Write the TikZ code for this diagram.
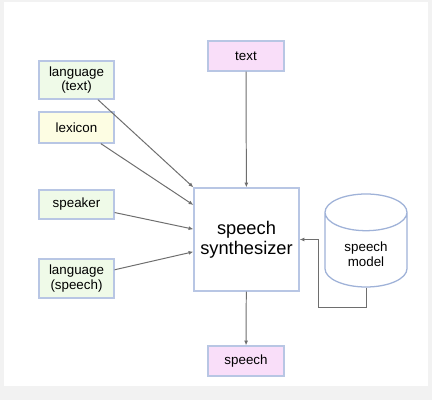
\documentclass[tikz,border=0pt]{standalone}
\usepackage{fontspec}
\setmainfont{Liberation Sans}
\usetikzlibrary{arrows.meta, shapes.geometric}
\definecolor{pagegray}{HTML}{F2F2F2}
\definecolor{iofill}{HTML}{F9DEF9}
\definecolor{langfill}{HTML}{EFFAE8}
\definecolor{lexfill}{HTML}{FDFDE3}
\definecolor{boxborder}{HTML}{B8C6E4}
\definecolor{drumborder}{HTML}{9FB2D8}
\definecolor{darkline}{HTML}{6E6E6E}
\tikzset{
  card/.style={
    rectangle,
    align=center,
    draw=boxborder,
    line width=0.9pt,
    inner sep=1pt,
    minimum width=1.875cm,
    font=\fontsize{9.5}{10.5}\selectfont
  },
  iobox/.style={card, fill=iofill, minimum width=1.9cm, minimum height=0.75cm},
  langbox/.style={card, fill=langfill},
  lexbox/.style={card, fill=lexfill},
  synthbox/.style={card, fill=white, minimum width=2.625cm, minimum height=2.575cm, font=\fontsize{13}{14.5}\selectfont},
  drum/.style={cylinder, shape border rotate=90, aspect=0.7, draw=drumborder, line width=0.9pt,
    fill=white, align=center, minimum width=2.05cm, minimum height=2.325cm, anchor=shape center,
    font=\fontsize{9.5}{10.5}\selectfont},
  flow/.style={-{Latex[length=1.2mm, width=1mm]}, line width=0.7pt, draw=darkline}
}

\begin{document}
\begin{tikzpicture}

% Page and frame.
\fill[pagegray] (0,0) rectangle (10.8,10);
\fill[white] (0.1,0.35) rectangle (10.7,9.95);
\useasboundingbox (0,0) rectangle (10.8,10);

% Inputs.
\node[iobox] (text) at (6.15,8.6) {text};
\node[langbox, minimum height=0.95cm] (langtext) at (1.9125,8.0) {language\\(text)};
\node[lexbox, minimum height=0.775cm] (lexicon) at (1.9125,6.8125) {lexicon};
\node[langbox, minimum height=0.725cm] (speaker) at (1.9125,4.8875) {speaker};
\node[langbox, minimum height=0.975cm] (langspeech) at (1.9125,3.0375) {language\\(speech)};

% Synthesizer and model.
\node[synthbox] (synth) at (6.1625,4.0125) {speech\\synthesizer};
\node[drum] (model) at (9.15,3.9875) {speech\\model};

% Output.
\node[iobox] (speech) at (6.15,0.975) {speech};

% Connectors.
\draw[flow] (langtext) -- (synth.north west);
\draw[flow] (lexicon) -- (synth.147);
\draw[flow] (speaker) -- (synth.169);
\draw[flow] (langspeech) -- (synth.193);
\draw[flow] (text) -- (synth);
\draw[flow] (synth) -- (speech);
\draw[flow] (model.south) -- ++(0,-0.5) -| ([xshift=0.475cm]synth.east) -- (synth.east);

\end{tikzpicture}
\end{document}
